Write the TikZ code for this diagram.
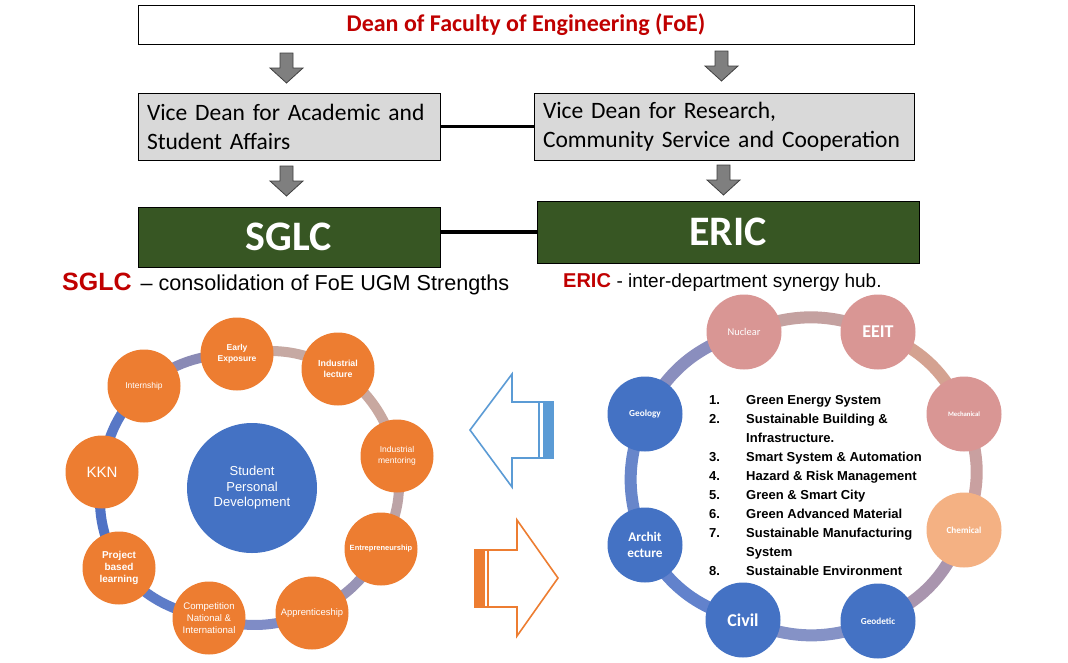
\documentclass[tikz,border=0pt]{standalone}
\usepackage{fontspec}
\setmainfont{Liberation Sans}
\newfontfamily\calfont{Carlito}
\usetikzlibrary{backgrounds}
\pgfdeclarelayer{bgzero}
\pgfsetlayers{bgzero,background,main}
\definecolor{deanred}{HTML}{C00000}
\definecolor{vdgray}{HTML}{D9D9D9}
\definecolor{dkgreen}{HTML}{375623}
\definecolor{arrgray}{HTML}{7F7F7F}
\definecolor{arredge}{HTML}{404040}
\definecolor{obl}{HTML}{4472C4}
\definecolor{oor}{HTML}{ED7D31}
\definecolor{opink}{HTML}{D99694}
\definecolor{olor}{HTML}{F4B183}
\definecolor{lblue}{HTML}{5B9BD5}
% ring colours, left cycle
\definecolor{la}{HTML}{C6A9A3}
\definecolor{lb}{HTML}{C8A8A0}
\definecolor{lc}{HTML}{BCA3A6}
\definecolor{ld}{HTML}{9893B5}
\definecolor{le}{HTML}{7F8CC6}
\definecolor{lf}{HTML}{5D7CC8}
\definecolor{lg}{HTML}{4F72C5}
\definecolor{lh}{HTML}{5878C6}
\definecolor{li}{HTML}{8A8AB5}
% ring colours, right cycle
\definecolor{ra}{HTML}{C4A1A0}
\definecolor{rb}{HTML}{D4A291}
\definecolor{rc}{HTML}{C9A0A0}
\definecolor{rd}{HTML}{A995AE}
\definecolor{re}{HTML}{8592C6}
\definecolor{rf}{HTML}{6282CC}
\definecolor{rg}{HTML}{6886CA}
\definecolor{rh}{HTML}{8A8EBE}
\newcommand\fs[2]{\fontsize{#1}{#2}\selectfont}
\begin{document}
\begin{tikzpicture}[x=1pt,y=-1pt,
  topbox/.style={draw=black, line width=1pt, inner ysep=0pt, inner xsep=9pt},
  deanbox/.style={topbox, fill=white, minimum width=776, minimum height=39, text=deanred,
    font=\calfont\bfseries\fs{24}{28}},
  vdbox/.style={topbox, fill=vdgray, minimum height=67, align=left,
    font=\calfont\fs{23.5}{29}},
  centrebox/.style={topbox, fill=dkgreen, text=white, font=\calfont\bfseries\fs{42}{48}},
  ocirc/.style={circle, fill=oor, minimum size=73, inner sep=0pt, text=white, align=center},
  rcirc/.style={circle, minimum size=75, inner sep=0pt, text=white, align=center},
  lring/.style={line width=10pt},
  rring/.style={line width=12pt},
  conn/.style={line width=3.5pt, black},
  downarr/.pic={\filldraw[fill=arrgray, draw=arredge, line width=0.8pt]
    (-6.5,0) -- (6.5,0) -- (6.5,15) -- (16.5,15) -- (0,30) -- (-16.5,15) -- (-6.5,15) -- cycle;}
]
\useasboundingbox (0,0) rectangle (1068,662);
\begin{pgfonlayer}{bgzero}
\fill[white] (0,0) rectangle (1068,662);
\end{pgfonlayer}

% ---------- top hierarchy ----------
\node[deanbox] (dean) at (526,24.5) {Dean of Faculty of Engineering (FoE)};
\node[vdbox, text width=284] (vdl) at (289,126.5) {Vice Dean for Academic and\\Student Affairs};
\node[vdbox, text width=362] (vdr) at (724,126.5) {Vice Dean for Research,\\Community Service and Cooperation};
\node[centrebox, minimum width=302, minimum height=60] (sglc) at (289,237) {SGLC};
\node[centrebox, minimum width=382, minimum height=62] (eric) at (728,232) {ERIC};

\draw[conn] (vdl.east) -- (vdr.west);
\draw[conn] (eric.west) -- (eric.west -| sglc.east);

\pic at (286.5,53) {downarr};
\pic at (721.5,51) {downarr};
\pic at (286.5,166) {downarr};
\pic at (723.5,165) {downarr};

% ---------- captions ----------
\node[anchor=base west, inner sep=0pt] (sglccap) at (62,290)
  {\fs{25}{30}\textcolor{deanred}{\bfseries SGLC}\hspace{9pt}\fs{21.6}{25}– consolidation of FoE UGM Strengths};
\node[anchor=base west, inner sep=0pt] (ericcap) at (563,287)
  {\fs{20}{24}\textcolor{deanred}{\bfseries ERIC} \fs{19}{23}- inter-department synergy hub.};

% ---------- left cycle ----------
\node[circle, fill=obl, minimum size=130, inner sep=0pt, text=white, align=center,
  font=\fs{13}{15.5}] (spd) at (252,488) {Student\\Personal\\Development};
\node[ocirc, font=\bfseries\fs{8.5}{10.7}] (ee) at (237,354) {Early\\Exposure};
\node[ocirc, font=\bfseries\fs{8.8}{10.5}] (il) at (338,369) {Industrial\\lecture};
\node[ocirc, font=\fs{8.5}{10.5}] (im) at (397,456) {Industrial\\mentoring};
\node[ocirc, font=\bfseries\fs{7.5}{9}] (en) at (381,549) {Entrepreneurship};
\node[ocirc, font=\fs{9.4}{11}] (ap) at (312,613) {Apprenticeship};
\node[ocirc, font=\fs{9.6}{12.3}] (co) at (209,618) {Competition\\National \&\\International};
\node[ocirc, font=\bfseries\fs{10}{12}] (pb) at (119,568) {Project\\based\\learning};
\node[ocirc, font=\fs{15}{18}] (kkn) at (102,472) {KKN};
\node[ocirc, font=\fs{8.5}{10}] (int) at (144,386) {Internship};

\begin{pgfonlayer}{background}
\draw[lring, la] (ee.center) to[bend left=18] (il.center);
\draw[lring, lb] (il.center) to[bend left=18] (im.center);
\draw[lring, lc] (im.center) to[bend left=18] (en.center);
\draw[lring, ld] (en.center) to[bend left=18] (ap.center);
\draw[lring, le] (ap.center) to[bend left=18] (co.center);
\draw[lring, lf] (co.center) to[bend left=18] (pb.center);
\draw[lring, lg] (pb.center) to[bend left=18] (kkn.center);
\draw[lring, lh] (kkn.center) to[bend left=18] (int.center);
\draw[lring, li] (int.center) to[bend left=18] (ee.center);
\end{pgfonlayer}

% ---------- right cycle ----------
\node[rcirc, fill=opink, font=\calfont\fs{10.4}{12}] (nu) at (744,332) {Nuclear};
\node[rcirc, fill=opink, font=\calfont\bfseries\fs{18}{20}] (eeit) at (878,332) {EEIT};
\node[rcirc, fill=opink, font=\calfont\bfseries\fs{6.7}{8}] (me) at (964,414) {Mechanical};
\node[rcirc, fill=olor, font=\calfont\bfseries\fs{9.2}{11}] (ch) at (964,530) {Chemical};
\node[rcirc, fill=obl, font=\calfont\bfseries\fs{9.2}{11}] (gd) at (878,621) {Geodetic};
\node[rcirc, fill=obl, font=\calfont\bfseries\fs{18}{20}] (ci) at (743,620) {Civil};
\node[rcirc, fill=obl, font=\calfont\bfseries\fs{13.3}{16.5}] (ar) at (645,545) {Archit\\ecture};
\node[rcirc, fill=obl, font=\calfont\bfseries\fs{9.3}{11}] (gl) at (645,414) {Geology};

\begin{pgfonlayer}{background}
\draw[rring, ra] (nu.center) to[bend left=22] (eeit.center);
\draw[rring, rb] (eeit.center) to[bend left=22] (me.center);
\draw[rring, rc] (me.center) to[bend left=22] (ch.center);
\draw[rring, rd] (ch.center) to[bend left=22] (gd.center);
\draw[rring, re] (gd.center) to[bend left=22] (ci.center);
\draw[rring, rf] (ci.center) to[bend left=22] (ar.center);
\draw[rring, rg] (ar.center) to[bend left=22] (gl.center);
\draw[rring, rh] (gl.center) to[bend left=22] (nu.center);
\end{pgfonlayer}

\node[anchor=north west, inner sep=0pt, font=\bfseries\fs{13}{19}] (list) at (709,391)
{\begin{tabular}{@{}p{37pt}@{}l@{}}
1. & Green Energy System\\
2. & Sustainable Building \&\\
   & Infrastructure.\\
3. & Smart System \& Automation\\
4. & Hazard \& Risk Management\\
5. & Green \& Smart City\\
6. & Green Advanced Material\\
7. & Sustainable Manufacturing\\
   & System\\
8. & Sustainable Environment
\end{tabular}};

% ---------- hollow striped arrows ----------
\draw[lblue, line width=1.6pt, fill=white]
  (553,402) -- (512,402) -- (512,374) -- (470,430) -- (512,487) -- (512,458) -- (553,458) -- cycle;
\draw[lblue, line width=1.6pt] (539,402) -- (539,458);
\fill[lblue] (543,402) rectangle (553,458);
\draw[oor, line width=1.6pt, fill=white]
  (475,550) -- (517,550) -- (517,520) -- (558,578) -- (517,636) -- (517,607) -- (475,607) -- cycle;
\draw[oor, line width=1.6pt] (488,550) -- (488,607);
\fill[oor] (475,550) rectangle (485,607);
\end{tikzpicture}
\end{document}
